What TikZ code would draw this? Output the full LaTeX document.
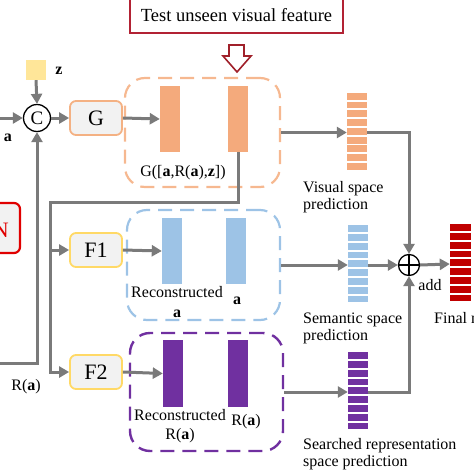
\documentclass[tikz,border=0pt]{standalone}
\usepackage{fontspec}
\setmainfont{Liberation Serif}
\usetikzlibrary{arrows.meta}
\definecolor{lgray}{HTML}{7A7A7A}
\definecolor{boxfill}{HTML}{F2F2F2}
\definecolor{obar}{HTML}{F4AA7C}
\definecolor{oedge}{HTML}{F6B890}
\definecolor{gedge}{HTML}{F4B183}
\definecolor{bbar}{HTML}{9DC3E6}
\definecolor{pbar}{HTML}{7030A0}
\definecolor{rvec}{HTML}{C00000}
\definecolor{titlered}{HTML}{B22234}
\definecolor{arrred}{HTML}{A0202A}
\definecolor{zfill}{HTML}{FFE699}
\definecolor{fedge}{HTML}{FFD966}
\definecolor{nred}{HTML}{E00000}
\begin{document}
\begin{tikzpicture}[x=1pt,y=-1pt,
  conn/.style={draw=lgray,line width=3pt},
  arr/.style={conn,-{Triangle[length=10pt,width=11pt]}},
  netbox/.style={rectangle,rounded corners=6pt,fill=boxfill,line width=1.8pt,minimum width=52pt,minimum height=34pt,inner sep=0pt,font=\fontsize{22}{24}\selectfont},
  dbox/.style={rectangle,rounded corners=20pt,line width=2.2pt,dash pattern=on 14pt off 8pt,inner sep=0pt},
  bar/.style={rectangle,inner sep=0pt,minimum width=20pt,minimum height=66pt},
  vec/.style={rectangle,inner sep=0pt,minimum width=20pt,minimum height=79pt},
  lbl/.style={inner sep=0pt,font=\fontsize{16}{18}\selectfont},
  lbll/.style={lbl,anchor=west,align=left},
  opcirc/.style={circle,draw=black,line width=1.3pt,inner sep=0pt,fill=white}
]
\useasboundingbox (0,0) rectangle (474,474);

% title and hollow arrow
\node[draw=titlered,line width=1.6pt,minimum width=213pt,minimum height=36pt,inner sep=0pt,font=\fontsize{18.5}{20}\selectfont] (title) at (236.5,15) {Test unseen visual feature};
\draw[draw=arrred,fill=white,line width=1.6pt,line join=miter] (229,45) -- (244,45) -- (244,56) -- (251,56) -- (237,72) -- (223,56) -- (229,56) -- cycle;

% left part
\node[rectangle,rounded corners=6pt,draw=nred,line width=2.2pt,fill=boxfill,minimum width=60pt,minimum height=50pt] (nbox) at (-10,228) {};
\node[inner sep=0pt,anchor=east,text=nred,font=\fontsize{22}{24}\selectfont] (ntext) at (9,230) {N};

\node[rectangle,fill=zfill,minimum size=20pt,inner sep=0pt] (z) at (36,70) {};
\node[lbl,font=\fontsize{16}{18}\selectfont\bfseries] (zl) at (59,71) {z};
\node[opcirc,minimum size=27pt,font=\fontsize{19}{20}\selectfont] (C) at (37,118) {C};
\coordinate (ain) at (0,118);
\node[lbl,font=\fontsize{16}{18}\selectfont\bfseries] (al) at (8,138) {a};
\coordinate (rin) at (0,363);
\node[lbl] (ral) at (26,387) {R(\textbf{a})};

\node[netbox,draw=gedge] (G) at (96,118) {G};
\node[netbox,draw=fedge] (F1) at (96,250) {F1};
\node[netbox,draw=fedge] (F2) at (96,372) {F2};

% dashed groups
\node[dbox,draw=oedge,minimum width=155pt,minimum height=109pt] (obox) at (202.5,132.5) {};
\node[bar,fill=obar] (ob1) at (170,119) {};
\node[bar,fill=obar] (ob2) at (238,119) {};
\node[lbl] (gl) at (183,173) {G([\textbf{a},R(\textbf{a}),\textbf{z}])};

\node[dbox,draw=bbar,minimum width=153pt,minimum height=110pt] (bbox) at (203.5,265) {};
\node[bar,fill=bbar] (bb1) at (172,251) {};
\node[bar,fill=bbar] (bb2) at (236,251) {};
\node[lbl,align=center] (bl1) at (177,302) {Reconstructed\\[2pt]\textbf{a}};
\node[lbl,font=\fontsize{16}{18}\selectfont\bfseries] (bl2) at (237,301) {a};

\node[dbox,draw=pbar,line width=2.4pt,minimum width=153pt,minimum height=118pt] (pbox) at (206.5,392) {};
\node[bar,fill=pbar,minimum height=67pt] (pb1) at (173,373.5) {};
\node[bar,fill=pbar,minimum height=67pt] (pb2) at (237.5,373.5) {};
\node[lbl,align=center] (pl1) at (180,426) {Reconstructed\\[1pt]R(\textbf{a})};
\node[lbl] (pl2) at (246,422) {R(\textbf{a})};

% output vectors
\node[vec] (ov) at (357,132.5) {};
\node[vec] (bv) at (358,265) {};
\node[vec] (pv) at (358,392) {};
\node[vec,minimum width=21pt] (rv) at (460.5,264) {};
\foreach \v/\c in {ov/obar,bv/bbar,pv/pbar,rv/rvec}{
  \foreach \k in {0,...,8}{
    \fill[\c] ([yshift=-\k*8.78pt]\v.north west) rectangle ([yshift=-\k*8.78pt-6.8pt]\v.north east);
  }
}
\node[lbll] (vl) at (303,197) {Visual space\\[-1pt]prediction};
\node[lbll] (sl) at (303,328) {Semantic space\\[-1pt]prediction};
\node[lbll] (rl) at (303,454) {Searched representation\\[-1pt]space prediction};
\node[lbll] (fl) at (434,318) {Final r};

% add
\node[opcirc,minimum size=21pt] (add) at (409,265) {};
\draw[black,line width=1.3pt] (add.north) -- (add.south) (add.west) -- (add.east);
\node[lbl] (addl) at (430,285) {add};

% connectors
\draw[arr] (ain) -- (C.west);
\draw[arr] (z.south) -- (C.north);
\draw[arr] (rin) -| (C.south);
\draw[arr] (C.east) -- (G.west);
\draw[arr] (G.east) -- (ob1.west);
\draw[arr] (F1.east) -- (bb1.west);
\draw[arr] (F2.east) -- (pb1.west);
\coordinate (j1) at (238,202);
\coordinate (j2) at (50,202);
\coordinate (j3) at (50,372);
\coordinate (j4) at (50,250);
\draw[arr,line join=miter] (ob2.south) -- (j1) -- (j2) -- (j3) -- (F2.west);
\draw[arr] (j4) -- (F1.west);
\draw[arr] (obox.east) -- (ov.west);
\draw[arr] (bbox.east) -- (bv.west);
\draw[arr] (pbox.east) -- (pv.west);
\draw[arr,line join=miter] (ov.east) -| (add.north);
\draw[arr,line join=miter] (pv.east) -| (add.south);
\draw[arr] (bv.east) -- (add.west);
\draw[arr] (add.east) -- (rv.west);
\end{tikzpicture}
\end{document}
